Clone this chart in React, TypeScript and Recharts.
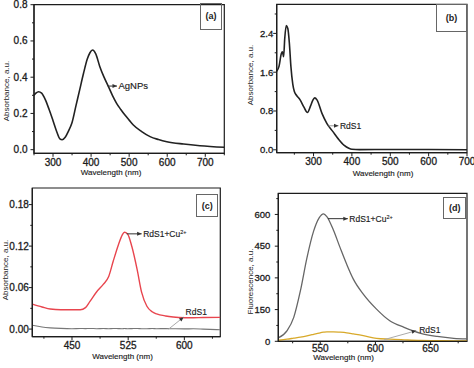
import React from 'react';
import {
  LineChart,
  Line,
  XAxis,
  YAxis,
  ReferenceArea,
  ReferenceLine,
  ReferenceDot,
} from 'recharts';

const FONT = '"Liberation Sans", Arial, sans-serif';
const INK = '#1c1c1c';

// (a) AgNPs absorbance
const agWavelength = [250, 255, 262, 270, 280, 290, 300, 310, 318, 324, 332, 340, 350, 360, 370, 380, 390, 397, 404, 412, 423, 434, 445, 456, 467, 478, 489, 500, 511, 533, 555, 577, 599, 643, 686, 750];
const agAbsorbance = [0.3, 0.312, 0.32, 0.312, 0.275, 0.22, 0.16, 0.098, 0.06, 0.055, 0.068, 0.1, 0.15, 0.24, 0.33, 0.42, 0.5, 0.535, 0.55, 0.53, 0.458, 0.4, 0.351, 0.3, 0.256, 0.222, 0.191, 0.163, 0.136, 0.1, 0.072, 0.056, 0.044, 0.031, 0.022, 0.013];

// (b) RdS1 absorbance
const rdsWavelength = [204, 210, 216, 219, 222, 225, 229, 233, 237, 241, 246, 250, 256, 265, 275, 284, 292, 298, 303, 309, 322, 335, 350, 365, 380, 392, 400, 420, 500, 600, 700];
const rdsAbsorbance = [1.62, 1.72, 1.98, 2.02, 1.92, 2.3, 2.56, 2.5, 2.2, 1.72, 1.35, 1.2, 1.12, 1.03, 0.88, 0.77, 0.9, 1.02, 1.07, 1.03, 0.75, 0.54, 0.38, 0.22, 0.09, 0.03, 0.01, 0.004, 0.006, 0.005, 0.0];

// (c) absorbance with / without Cu2+
const cWavelength = [397, 410, 421, 435, 450, 461, 468, 474, 483, 492, 499, 505, 512, 517, 520, 524, 530, 537, 543, 550, 557, 563, 575, 585, 600, 612, 625, 648];
const cWithCu = [0.036, 0.032, 0.029, 0.028, 0.028, 0.028, 0.031, 0.04, 0.054, 0.065, 0.076, 0.098, 0.122, 0.136, 0.14, 0.138, 0.119, 0.086, 0.053, 0.033, 0.025, 0.022, 0.019, 0.0175, 0.0165, 0.0164, 0.0168, 0.017];
const cRdS1 = [0.0055, 0.003, 0.0018, 0.001, 0.0006, 0.0008, 0.0007, 0.0009, 0.0006, 0.0008, 0.0005, 0.0009, 0.0007, 0.0006, 0.0008, 0.0005, 0.0007, 0.0009, 0.0006, 0.0005, 0.0008, 0.0006, 0.0007, 0.0005, 0.0003, 0.0004, 0.0, -0.001];

// (d) fluorescence with / without Cu2+
const dWavelength = [512, 520, 526, 532, 538, 544, 549, 553, 556, 562, 568, 574, 580, 589, 601, 613, 626, 641, 656, 671, 683];
const dWithCu = [16, 50, 113, 238, 396, 521, 584, 603, 590, 525, 443, 364, 294, 223, 152, 97, 66, 38, 23, 14, 11];
const dRdS1 = [5, 10, 15, 20, 26, 33, 39, 43, 45, 45, 43, 40, 35, 27, 14, 10, 7, 4, 3, 2, 2];

const pts = (xs: number[], ys: number[]) => xs.map((w, i) => ({ w, v: ys[i] }));

type Note = {
  from: [number, number];
  to: [number, number];
  text: string;
  sup?: string;
  angle?: number;
  lineColor?: string;
  dx?: number;
  dy?: number;
  size?: number;
};

type PanelProps = {
  left: number;
  top: number;
  margin: { top: number; right: number };
  yWidth: number;
  xHeight: number;
  xDomain: [number, number];
  xTicks: number[];
  xMajors: number[];
  xGap: number;
  yDomain: [number, number];
  yTicks: number[];
  yMajors: number[];
  yFmt: (v: number) => string;
  yGap: number;
  yFont: number;
  yLabel: string;
  yLabelPos: [number, number];
  xLabelPos: [number, number];
  series: { data: { w: number; v: number }[]; color: string; width: number }[];
  notes: Note[];
  tag: string;
  tagBox: [number, number, number, number];
};

// blurred scan look: a hairline stroke thickens the glyphs a little
const heavy = { stroke: INK, strokeWidth: 0.3 };

function XTick(props: any) {
  const { x, y, payload, majors, gap } = props;
  const axisY = y - 5;
  const major = majors.includes(payload.value);
  return (
    <g>
      <line x1={x} x2={x} y1={axisY} y2={axisY + (major ? 3.5 : 2)} stroke={INK} strokeWidth={1} />
      {major && (
        <text x={x} y={axisY + gap} textAnchor="middle" fontSize={10} fontFamily={FONT} fill={INK} {...heavy}>
          {payload.value}
        </text>
      )}
    </g>
  );
}

function YTick(props: any) {
  const { x, y, payload, majors, gap, fmt, font } = props;
  const axisX = x + 5;
  const major = majors.includes(payload.value);
  return (
    <g>
      <line x1={axisX} x2={axisX - (major ? 3.5 : 2)} y1={y} y2={y} stroke={INK} strokeWidth={1} />
      {major && (
        <text x={axisX - gap} y={y} dy="0.35em" textAnchor="end" fontSize={font} fontFamily={FONT} fill={INK} {...heavy}>
          {fmt(payload.value)}
        </text>
      )}
    </g>
  );
}

function Pointer({ cx, cy, note }: { cx: number; cy: number; note: Note }) {
  const angle = note.angle ?? 0;
  return (
    <g>
      <polygon points="0,0 -4.5,-2 -4.5,2" fill="#333" transform={`translate(${cx},${cy}) rotate(${angle})`} />
      <text
        x={cx + (note.dx ?? 1.5)}
        y={cy + (note.dy ?? 0)}
        dy="0.35em"
        fontSize={note.size ?? 8.5}
        fontFamily={FONT}
        fill={INK}
        stroke={INK}
        strokeWidth={0.15}
      >
        {note.text}
        {note.sup && (
          <tspan fontSize={5.5} dy={-3}>
            {note.sup}
          </tspan>
        )}
      </text>
    </g>
  );
}

function Panel(p: PanelProps) {
  const [bx, by, bw, bh] = p.tagBox;
  return (
    <div style={{ position: 'absolute', left: p.left, top: p.top, width: 237, height: 184 }}>
      <LineChart width={237} height={184} margin={{ top: p.margin.top, right: p.margin.right, left: 0, bottom: 0 }}>
        <XAxis
          type="number"
          dataKey="w"
          domain={p.xDomain}
          allowDataOverflow
          ticks={p.xTicks}
          interval={0}
          height={p.xHeight}
          tickLine={false}
          tickSize={3}
          tickMargin={2}
          axisLine={{ stroke: INK, strokeWidth: 1.2 }}
          tick={(t: any) => <XTick {...t} majors={p.xMajors} gap={p.xGap} />}
          label={{
            value: 'Wavelength (nm)',
            content: () => (
              <text x={p.xLabelPos[0]} y={p.xLabelPos[1]} textAnchor="middle" fontSize={8} fontFamily={FONT} fill={INK} stroke={INK} strokeWidth={0.15}>
                Wavelength (nm)
              </text>
            ),
          }}
        />
        <YAxis
          type="number"
          domain={p.yDomain}
          allowDataOverflow
          ticks={p.yTicks}
          interval={0}
          width={p.yWidth}
          tickLine={false}
          tickSize={3}
          tickMargin={2}
          axisLine={{ stroke: INK, strokeWidth: 1.2 }}
          tick={(t: any) => <YTick {...t} majors={p.yMajors} gap={p.yGap} fmt={p.yFmt} font={p.yFont} />}
          label={{
            value: p.yLabel,
            content: () => (
              <text
                x={p.yLabelPos[0]}
                y={p.yLabelPos[1]}
                transform={`rotate(-90 ${p.yLabelPos[0]} ${p.yLabelPos[1]})`}
                textAnchor="middle"
                dominantBaseline="central"
                fontSize={8}
                fontFamily={FONT}
                fill={INK}
              >
                {p.yLabel}
              </text>
            ),
          }}
        />
        <ReferenceArea
          x1={p.xDomain[0]}
          x2={p.xDomain[1]}
          y1={p.yDomain[0]}
          y2={p.yDomain[1]}
          fill="none"
          stroke={INK}
          strokeWidth={1.2}
          ifOverflow="visible"
        />
        {p.series.map((s, i) => (
          <Line
            key={i}
            data={s.data}
            dataKey="v"
            type="monotone"
            stroke={s.color}
            strokeWidth={s.width}
            dot={false}
            isAnimationActive={false}
          />
        ))}
        {p.notes.map((n, i) => (
          <ReferenceLine
            key={'l' + i}
            segment={[
              { x: n.from[0], y: n.from[1] },
              { x: n.to[0], y: n.to[1] },
            ]}
            stroke={n.lineColor ?? '#333'}
            strokeWidth={1}
            ifOverflow="visible"
          />
        ))}
        {p.notes.map((n, i) => (
          <ReferenceDot
            key={'d' + i}
            x={n.to[0]}
            y={n.to[1]}
            r={0}
            ifOverflow="visible"
            shape={(d: any) => <Pointer cx={d.cx} cy={d.cy} note={n} />}
          />
        ))}
      </LineChart>
      <div
        style={{
          position: 'absolute',
          left: bx,
          top: by,
          width: bw,
          height: bh,
          boxSizing: 'border-box',
          border: '1.3px solid #666',
          display: 'flex',
          alignItems: 'center',
          justifyContent: 'center',
          fontFamily: FONT,
          fontWeight: 'bold',
          fontSize: 9,
          color: INK,
        }}
      >
        {p.tag}
      </div>
    </div>
  );
}

export default function App() {
  return (
    <div style={{ position: 'absolute', left: 0, top: 0, width: 474, height: 368, background: '#fff', overflow: 'hidden' }}>
      <Panel
        left={0}
        top={0}
        margin={{ top: 4.7, right: 12.7 }}
        yWidth={34}
        xHeight={30.7}
        xDomain={[250, 750]}
        xTicks={[250, 300, 350, 400, 450, 500, 550, 600, 650, 700, 750]}
        xMajors={[300, 400, 500, 600, 700]}
        xGap={12.5}
        yDomain={[-0.02, 0.8]}
        yTicks={[0, 0.1, 0.2, 0.3, 0.4, 0.5, 0.6, 0.7, 0.8]}
        yMajors={[0, 0.2, 0.4, 0.6, 0.8]}
        yFmt={(v) => v.toFixed(1)}
        yGap={6.5}
        yFont={10}
        yLabel="Absorbance, a.u."
        yLabelPos={[6, 91]}
        xLabelPos={[111, 174.7]}
        series={[{ data: pts(agWavelength, agAbsorbance), color: '#222', width: 1.6 }]}
        notes={[{ from: [444, 0.351], to: [468, 0.351], text: 'AgNPs', size: 9.5 }]}
        tag="(a)"
        tagBox={[200, 2.7, 22, 27.3]}
      />
      <Panel
        left={237}
        top={0}
        margin={{ top: 4.3, right: 7 }}
        yWidth={39.7}
        xHeight={31.3}
        xDomain={[204, 700]}
        xTicks={[250, 300, 350, 400, 450, 500, 550, 600, 650, 700]}
        xMajors={[300, 400, 500, 600, 700]}
        xGap={12.5}
        yDomain={[-0.06, 3.0]}
        yTicks={[0, 0.4, 0.8, 1.2, 1.6, 2.0, 2.4, 2.8]}
        yMajors={[0, 0.8, 1.6, 2.4]}
        yFmt={(v) => v.toFixed(1)}
        yGap={3.5}
        yFont={9.5}
        yLabel="Absorbance, a.u."
        yLabelPos={[13.5, 75]}
        xLabelPos={[146, 176]}
        series={[{ data: pts(rdsWavelength, rdsAbsorbance), color: '#222', width: 1.6 }]}
        notes={[{ from: [339, 0.495], to: [365, 0.495], text: 'RdS1', lineColor: '#999' }]}
        tag="(b)"
        tagBox={[199, 4.3, 31, 27.4]}
      />
      <Panel
        left={0}
        top={184}
        margin={{ top: 4, right: 16.7 }}
        yWidth={32.3}
        xHeight={31.3}
        xDomain={[397, 648]}
        xTicks={[412.5, 450, 487.5, 525, 562.5, 600, 637.5]}
        xMajors={[450, 525, 600]}
        xGap={12.5}
        yDomain={[-0.011, 0.204]}
        yTicks={[0, 0.03, 0.06, 0.09, 0.12, 0.15, 0.18]}
        yMajors={[0, 0.06, 0.12, 0.18]}
        yFmt={(v) => v.toFixed(2)}
        yGap={3.5}
        yFont={10}
        yLabel="Absorbance, a.u."
        yLabelPos={[5.5, 86]}
        xLabelPos={[122.5, 174.7]}
        series={[
          { data: pts(cWavelength, cRdS1), color: '#777', width: 1.1 },
          { data: pts(cWavelength, cWithCu), color: '#e8454e', width: 1.4 },
        ]}
        notes={[
          { from: [523, 0.1377], to: [543, 0.1377], text: 'RdS1+Cu', sup: '2+' },
          { from: [579, 0.0], to: [599, 0.0173], text: 'RdS1', angle: -40, lineColor: '#aaa', dx: 2, dy: -5 },
        ]}
        tag="(c)"
        tagBox={[196, 10, 22.3, 23.3]}
      />
      <Panel
        left={237}
        top={184}
        margin={{ top: 9.3, right: 7 }}
        yWidth={41.3}
        xHeight={26.7}
        xDomain={[512, 683]}
        xTicks={[525, 550, 575, 600, 625, 650, 675]}
        xMajors={[550, 600, 650]}
        xGap={11}
        yDomain={[0, 700]}
        yTicks={[0, 75, 150, 225, 300, 375, 450, 525, 600, 675]}
        yMajors={[0, 150, 300, 450, 600]}
        yFmt={(v) => String(v)}
        yGap={8}
        yFont={9.5}
        yLabel="Fluorescence, a.u."
        yLabelPos={[13, 97.5]}
        xLabelPos={[106.5, 176]}
        series={[
          { data: pts(dWavelength, dWithCu), color: '#666', width: 1.3 },
          { data: pts(dWavelength, dRdS1), color: '#d8a92a', width: 1.3 },
        ]}
        notes={[
          { from: [557, 580], to: [575, 580], text: 'RdS1+Cu', sup: '2+' },
          { from: [608, 8], to: [637, 50], text: 'RdS1', angle: -15, lineColor: '#aaa', dx: 3, dy: -1 },
        ]}
        tag="(d)"
        tagBox={[206, 12.7, 23.3, 22.3]}
      />
    </div>
  );
}
